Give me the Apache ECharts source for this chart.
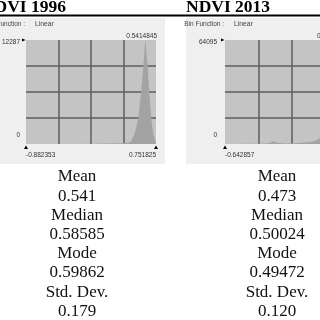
<!DOCTYPE html>
<html>
<head>
<meta charset="utf-8">
<script src="https://cdn.jsdelivr.net/npm/echarts@6/dist/echarts.min.js"></script>
<style>
html,body{margin:0;padding:0;background:#fff;}
#chart{width:320px;height:320px;}
</style>
</head>
<body>
<div id="chart"></div>
<script>
// ---- data ----
const panelTitles = ['NDVI 1996', 'NDVI 2013'];
const binFunctionText = ['Bin Function :', 'Linear'];
const statNames = ['Mean', 'Median', 'Mode', 'Std. Dev.'];
const stats1996 = ['0.541', '0.58585', '0.59862', '0.179'];
const stats2013 = ['0.473', '0.50024', '0.49472', '0.120'];

const xRange1996 = [-0.882353, 0.751825];
const xRange2013 = [-0.642857, 0.76];      // right end lies outside the picture (estimated)
const yMax1996 = 12287;
const yMax2013 = 64095;
const xTickLabels1996 = ['-0.882353', '0.751825'];
const xTickLabels2013 = ['-0.642857', ''];
const yTickLabels1996 = ['0', '12287'];
const yTickLabels2013 = ['0', '64095'];
const peakLabels = ['0.5414845', '0.4947208'];

const binValues1996 = [-0.88, -0.3, 0.0, 0.1, 0.2, 0.3, 0.35, 0.40, 0.43, 0.45, 0.4715, 0.50, 0.5256, 0.545, 0.5633, 0.58, 0.5922, 0.605, 0.6174, 0.63, 0.6475, 0.6676, 0.68, 0.6928, 0.71, 0.7229, 0.74, 0.7518];
const binCounts1996 = [0, 0, 30, 50, 60, 80, 110, 150, 250, 450, 950, 1800, 2950, 4300, 6000, 7800, 9100, 10700, 12287, 11000, 9100, 6000, 4500, 2950, 1700, 950, 450, 250];

const binValues2013 = [-0.64, -0.3, -0.2, -0.16, -0.137, -0.11, -0.05, 0.0, 0.1, 0.2, 0.25, 0.3, 0.33, 0.36, 0.40, 0.43, 0.46, 0.495, 0.52, 0.55, 0.6, 0.65, 0.7, 0.76];
const binCounts2013 = [0, 100, 300, 1000, 1800, 900, 400, 300, 500, 900, 1300, 2000, 2800, 4000, 12000, 25000, 45000, 64095, 50000, 30000, 12000, 4000, 1000, 200];

// ---- styles ----
const PLOT_BG = '#c4c4c4';
const PANEL_BG = '#efefef';
const GRID_LINE = '#5e5e5e';
const HIST = '#a3a3a3';
const SMALL_FONT = '"Liberation Sans", Arial, sans-serif';
const SERIF = '"Liberation Serif", "Times New Roman", serif';

const chart = echarts.init(document.getElementById('chart'), null, {renderer: 'canvas'});

function near(a, b) { return Math.abs(a - b) < 1e-9; }

function gridAxis(dim, idx) {
  return {
    type: 'value', gridIndex: idx, min: 0, max: 4, interval: 1, z: 1,
    position: dim === 'x' ? 'top' : 'right',
    axisLine: {show: false}, axisTick: {show: false}, axisLabel: {show: false},
    splitLine: {show: true, showMinLine: false, showMaxLine: false, lineStyle: {color: GRID_LINE, width: 1.5}}
  };
}
function dataX(idx, range, labels) {
  return {
    type: 'value', gridIndex: idx, min: range[0], max: range[1], position: 'bottom',
    axisLine: {show: false}, axisTick: {show: false}, splitLine: {show: false},
    axisLabel: {
      show: true, showMinLabel: true, showMaxLabel: true,
      alignMinLabel: 'left', alignMaxLabel: 'right',
      margin: 8, fontSize: 6.5, color: '#333', fontFamily: SMALL_FONT,
      formatter: v => near(v, range[0]) ? labels[0] : (near(v, range[1]) ? labels[1] : '')
    }
  };
}
function dataY(idx, max, labels, margin, bottomPad) {
  return {
    type: 'value', gridIndex: idx, min: 0, max: max, interval: max, position: 'left',
    axisLine: {show: false}, axisTick: {show: false}, splitLine: {show: false},
    axisLabel: {
      show: true, margin: margin, fontSize: 6.5, color: '#333', fontFamily: SMALL_FONT,
      formatter: v => near(v, 0) ? '{b|' + labels[0] + '}' : '{t|' + labels[1] + '}',
      rich: {
        t: {padding: [5, 0, 0, 0], fontSize: 6.5, color: '#333', fontFamily: SMALL_FONT},
        b: {padding: [0, 0, bottomPad, 0], fontSize: 6.5, color: '#333', fontFamily: SMALL_FONT}
      }
    }
  };
}
function zip(xs, ys) { return xs.map((x, i) => [x, ys[i]]); }

const grids = [
  {left: 26, top: 40, width: 130, height: 104},
  {left: 225, top: 40, width: 134, height: 104}
];

// graphic decorations & text
const g = [];
g.push({type: 'rect', z: -5, shape: {x: -10, y: 18, width: 175, height: 146}, style: {fill: PANEL_BG}});
g.push({type: 'rect', z: -5, shape: {x: 186, y: 18, width: 150, height: 146}, style: {fill: PANEL_BG}});
g.push({type: 'rect', z: 10, shape: {x: 0, y: 14.5, width: 320, height: 2}, style: {fill: '#000'}});
g.push({type: 'text', z: 10, style: {text: panelTitles[0], x: 66, y: 7.5, align: 'right', verticalAlign: 'middle', font: 'bold 17.5px ' + SERIF, fill: '#000'}});
g.push({type: 'text', z: 10, style: {text: panelTitles[1], x: 186, y: 7.5, align: 'left', verticalAlign: 'middle', font: 'bold 17.5px ' + SERIF, fill: '#000'}});
grids.forEach((gr, i) => {
  g.push({type: 'text', z: 10, style: {text: binFunctionText[0], x: gr.left - 1, y: 24, align: 'right', verticalAlign: 'middle', font: '6.5px ' + SMALL_FONT, fill: '#444'}});
  g.push({type: 'text', z: 10, style: {text: binFunctionText[1], x: gr.left + 9, y: 24, align: 'left', verticalAlign: 'middle', font: '6.8px ' + SMALL_FONT, fill: '#444'}});
  const bx = gr.left, by = gr.top + gr.height;
  g.push({type: 'polygon', z: 10, shape: {points: [[bx - 2, by + 5], [bx + 2, by + 5], [bx, by + 1.5]]}, style: {fill: '#000'}});
  g.push({type: 'polygon', z: 10, shape: {points: [[bx - 4, gr.top - 1.5], [bx - 0.5, gr.top], [bx - 4, gr.top + 1.5]]}, style: {fill: '#000'}});
  if (i === 0) {
    const rx = gr.left + gr.width;
    g.push({type: 'polygon', z: 10, shape: {points: [[rx - 2, by + 5], [rx + 2, by + 5], [rx, by + 1.5]]}, style: {fill: '#000'}});
  }
});
g.push({type: 'text', z: 10, style: {text: peakLabels[0], x: 157, y: 36, align: 'right', verticalAlign: 'middle', font: '6.5px ' + SMALL_FONT, fill: '#333'}});
g.push({type: 'text', z: 10, style: {text: peakLabels[1], x: 317, y: 36, align: 'left', verticalAlign: 'middle', font: '6.5px ' + SMALL_FONT, fill: '#333'}});

const statCols = [[77, stats1996], [277, stats2013]];
statCols.forEach(([cx, vals]) => {
  statNames.forEach((name, k) => {
    g.push({type: 'text', z: 10, style: {text: name, x: cx, y: 177 + 19.2 * (2 * k), align: 'center', verticalAlign: 'middle', font: '17px ' + SERIF, fill: '#111'}});
    g.push({type: 'text', z: 10, style: {text: vals[k], x: cx, y: 177 + 19.2 * (2 * k + 1), align: 'center', verticalAlign: 'middle', font: '17px ' + SERIF, fill: '#111'}});
  });
});

const option = {
  animation: false,
  backgroundColor: '#fff',
  grid: grids.map(gr => Object.assign({show: true, backgroundColor: PLOT_BG, borderWidth: 0, containLabel: false, outerBoundsMode: 'none'}, gr)),
  xAxis: [gridAxis('x', 0), gridAxis('x', 1), dataX(0, xRange1996, xTickLabels1996), dataX(1, xRange2013, xTickLabels2013)],
  yAxis: [gridAxis('y', 0), gridAxis('y', 1), dataY(0, yMax1996, yTickLabels1996, 6, 17), dataY(1, yMax2013, yTickLabels2013, 8, 18)],
  series: [
    {type: 'line', xAxisIndex: 2, yAxisIndex: 2, data: zip(binValues1996, binCounts1996), symbol: 'none', silent: true,
     lineStyle: {width: 0}, areaStyle: {color: HIST, opacity: 1}, z: 5},
    {type: 'line', xAxisIndex: 3, yAxisIndex: 3, data: zip(binValues2013, binCounts2013), symbol: 'none', silent: true,
     lineStyle: {width: 0}, areaStyle: {color: HIST, opacity: 1}, z: 5}
  ],
  graphic: {elements: g}
};
chart.setOption(option);
</script>
</body>
</html>
